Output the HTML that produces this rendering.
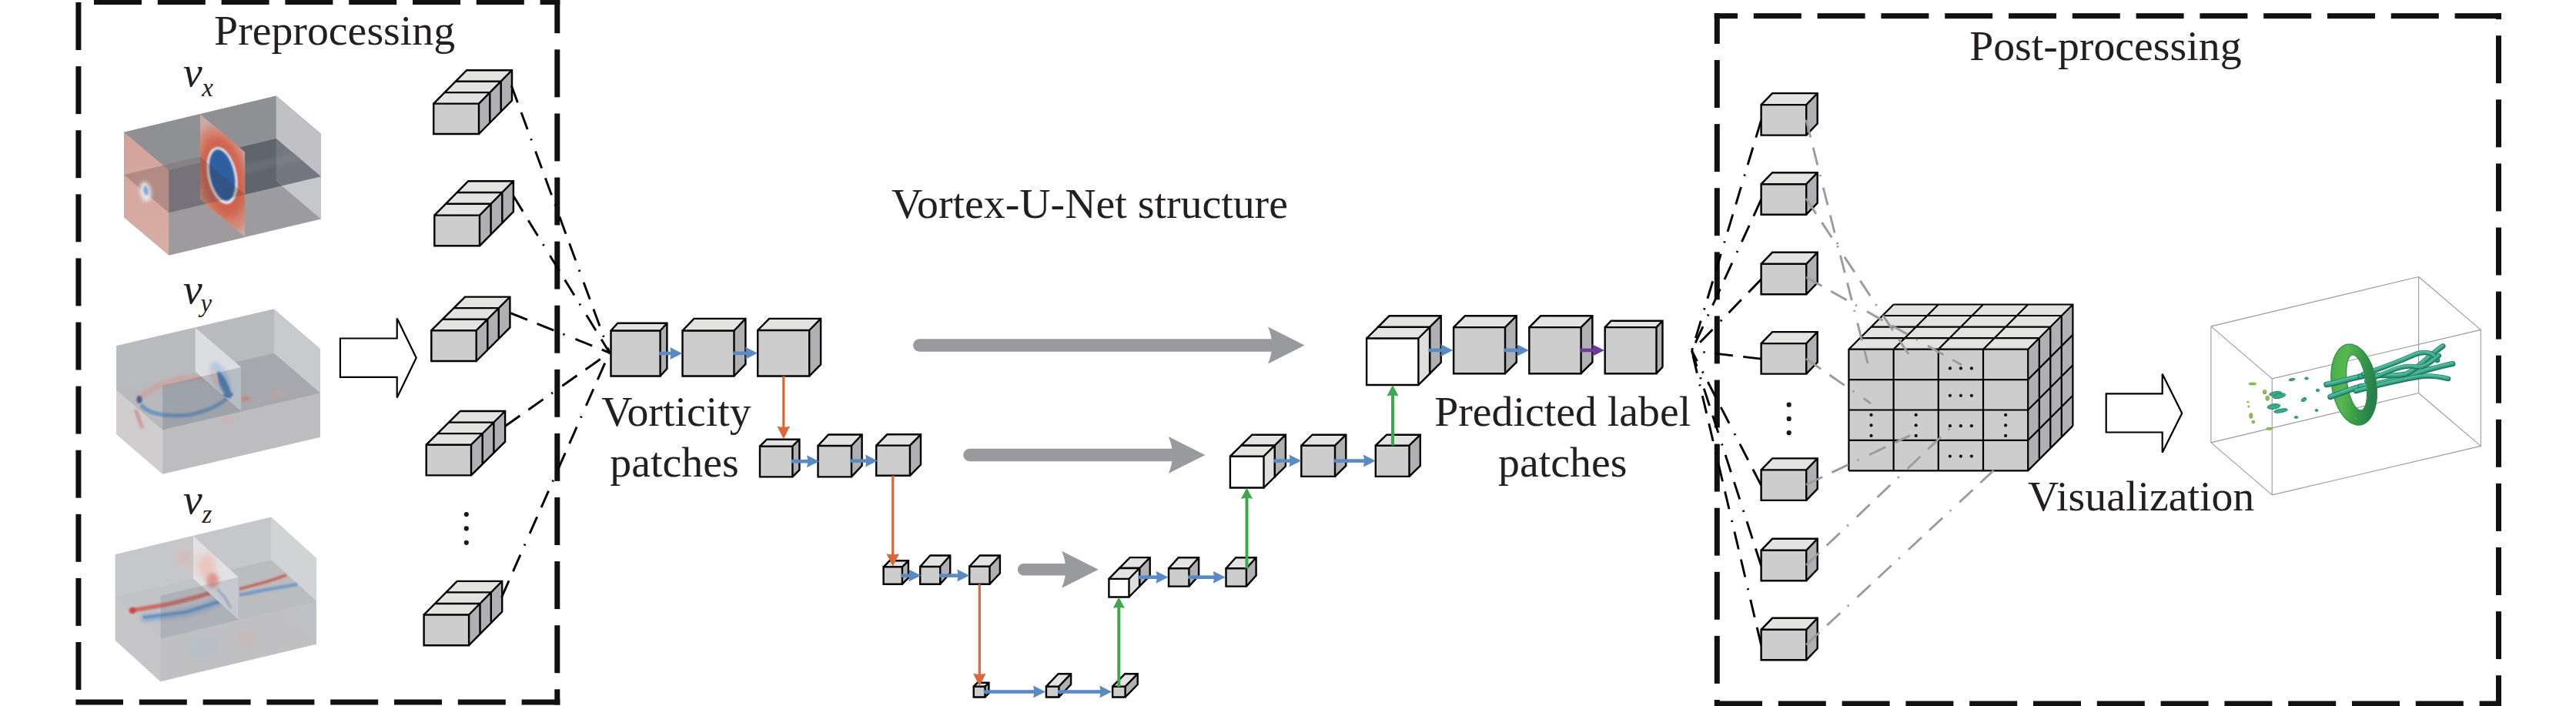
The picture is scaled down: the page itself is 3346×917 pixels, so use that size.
<!DOCTYPE html>
<html><head><meta charset="utf-8"><style>
html,body{margin:0;padding:0;background:#fff;width:3346px;height:917px;overflow:hidden}
svg{display:block}
</style></head><body>
<svg width="3346" height="917" viewBox="0 0 3346 917" font-family="Liberation Serif, serif" fill="#231f20">
<rect width="3346" height="917" fill="#fff"/>
<g fill="#111">
<rect x="122" y="-0.9" width="62" height="7"/>
<rect x="204.8" y="-0.9" width="62" height="7"/>
<rect x="287.6" y="-0.9" width="62" height="7"/>
<rect x="370.4" y="-0.9" width="62" height="7"/>
<rect x="453.2" y="-0.9" width="62" height="7"/>
<rect x="536" y="-0.9" width="62" height="7"/>
<rect x="618.8" y="-0.9" width="62" height="7"/>
<rect x="701.6" y="-0.9" width="25.7" height="7"/>
<rect x="98.4" y="908.5" width="61.6" height="7"/>
<rect x="180.8" y="908.5" width="62" height="7"/>
<rect x="263.6" y="908.5" width="62" height="7"/>
<rect x="346.4" y="908.5" width="62" height="7"/>
<rect x="429.2" y="908.5" width="62" height="7"/>
<rect x="512" y="908.5" width="62" height="7"/>
<rect x="594.8" y="908.5" width="62" height="7"/>
<rect x="677.6" y="908.5" width="49.7" height="7"/>
<rect x="98.4" y="3" width="7" height="62"/>
<rect x="98.4" y="86.1" width="7" height="62"/>
<rect x="98.4" y="169.2" width="7" height="62"/>
<rect x="98.4" y="252.3" width="7" height="62"/>
<rect x="98.4" y="335.4" width="7" height="62"/>
<rect x="98.4" y="418.5" width="7" height="62"/>
<rect x="98.4" y="501.6" width="7" height="62"/>
<rect x="98.4" y="584.7" width="7" height="62"/>
<rect x="98.4" y="667.8" width="7" height="62"/>
<rect x="98.4" y="750.9" width="7" height="62"/>
<rect x="98.4" y="834" width="7" height="62"/>
<rect x="720.3" y="-0.9" width="7" height="44.1"/>
<rect x="720.3" y="64.3" width="7" height="62"/>
<rect x="720.3" y="147.4" width="7" height="62"/>
<rect x="720.3" y="230.5" width="7" height="62"/>
<rect x="720.3" y="313.6" width="7" height="62"/>
<rect x="720.3" y="396.7" width="7" height="62"/>
<rect x="720.3" y="479.8" width="7" height="62"/>
<rect x="720.3" y="562.9" width="7" height="62"/>
<rect x="720.3" y="646" width="7" height="62"/>
<rect x="720.3" y="729.1" width="7" height="62"/>
<rect x="720.3" y="812.2" width="7" height="62"/>
<rect x="720.3" y="895.3" width="7" height="20.2"/>
</g>
<g fill="#111">
<rect x="2226.8" y="17.2" width="30.2" height="7"/>
<rect x="2277.8" y="17.2" width="62" height="7"/>
<rect x="2360.6" y="17.2" width="62" height="7"/>
<rect x="2443.4" y="17.2" width="62" height="7"/>
<rect x="2526.2" y="17.2" width="62" height="7"/>
<rect x="2609" y="17.2" width="62" height="7"/>
<rect x="2691.8" y="17.2" width="62" height="7"/>
<rect x="2774.6" y="17.2" width="62" height="7"/>
<rect x="2857.4" y="17.2" width="62" height="7"/>
<rect x="2940.2" y="17.2" width="62" height="7"/>
<rect x="3023" y="17.2" width="62" height="7"/>
<rect x="3105.8" y="17.2" width="62" height="7"/>
<rect x="3188.6" y="17.2" width="60.4" height="7"/>
<rect x="2227" y="910.5" width="62" height="7"/>
<rect x="2309.8" y="910.5" width="62" height="7"/>
<rect x="2392.6" y="910.5" width="62" height="7"/>
<rect x="2475.4" y="910.5" width="62" height="7"/>
<rect x="2558.2" y="910.5" width="62" height="7"/>
<rect x="2641" y="910.5" width="62" height="7"/>
<rect x="2723.8" y="910.5" width="62" height="7"/>
<rect x="2806.6" y="910.5" width="62" height="7"/>
<rect x="2889.4" y="910.5" width="62" height="7"/>
<rect x="2972.2" y="910.5" width="62" height="7"/>
<rect x="3055" y="910.5" width="62" height="7"/>
<rect x="3137.8" y="910.5" width="62" height="7"/>
<rect x="3220.6" y="910.5" width="28.4" height="7"/>
<rect x="2226.8" y="17.2" width="7" height="39.7"/>
<rect x="2226.8" y="78" width="7" height="62"/>
<rect x="2226.8" y="161.1" width="7" height="62"/>
<rect x="2226.8" y="244.2" width="7" height="62"/>
<rect x="2226.8" y="327.3" width="7" height="62"/>
<rect x="2226.8" y="410.4" width="7" height="62"/>
<rect x="2226.8" y="493.5" width="7" height="62"/>
<rect x="2226.8" y="576.6" width="7" height="62"/>
<rect x="2226.8" y="659.7" width="7" height="62"/>
<rect x="2226.8" y="742.8" width="7" height="62"/>
<rect x="2226.8" y="825.9" width="7" height="62"/>
<rect x="2226.8" y="909" width="7" height="8.5"/>
<rect x="3242" y="17.2" width="7" height="7.9"/>
<rect x="3242" y="46.2" width="7" height="62"/>
<rect x="3242" y="129.3" width="7" height="62"/>
<rect x="3242" y="212.4" width="7" height="62"/>
<rect x="3242" y="295.5" width="7" height="62"/>
<rect x="3242" y="378.6" width="7" height="62"/>
<rect x="3242" y="461.7" width="7" height="62"/>
<rect x="3242" y="544.8" width="7" height="62"/>
<rect x="3242" y="627.9" width="7" height="62"/>
<rect x="3242" y="711" width="7" height="62"/>
<rect x="3242" y="794.1" width="7" height="62"/>
<rect x="3242" y="877.2" width="7" height="40.3"/>
</g>
<text x="278.1" y="57.9" font-size="55.8" text-anchor="start">Preprocessing</text>
<text x="1158" y="282.9" font-size="55.8" text-anchor="start">Vortex-U-Net structure</text>
<text x="781.3" y="553.2" font-size="55.8" text-anchor="start">Vorticity</text>
<text x="792.3" y="618.6" font-size="55.8" text-anchor="start">patches</text>
<text x="1863.2" y="553.2" font-size="55.8" text-anchor="start">Predicted label</text>
<text x="1946.1" y="619" font-size="55.8" text-anchor="start">patches</text>
<text x="2558.2" y="78" font-size="55.8" text-anchor="start">Post-processing</text>
<text x="2634.1" y="663.4" font-size="55.8" text-anchor="start">Visualization</text>
<text x="237.9" y="112.2" font-size="55.8" font-style="italic" text-anchor="start">v</text>
<text x="262.3" y="124.5" font-size="33" font-style="italic" text-anchor="start">x</text>
<text x="237.9" y="393.5" font-size="55.8" font-style="italic" text-anchor="start">v</text>
<text x="260.5" y="404.5" font-size="33" font-style="italic" text-anchor="start">y</text>
<text x="237.9" y="667.2" font-size="55.8" font-style="italic" text-anchor="start">v</text>
<text x="262.4" y="678.8" font-size="33" font-style="italic" text-anchor="start">z</text>
<polygon points="161.1,171.7 358.7,124.6 417,173.9 417,284.5 219.4,331.6 161.1,282.3" fill="#9c9ca0"/>
<polygon points="161.1,171.7 358.7,124.6 417,173.9 417,229.2 358.7,179.9 161.1,227" fill="#8f9094"/>
<polygon points="358.7,124.6 417,173.9 417,229.2 358.7,179.9" fill="#bbbcbf"/>
<polygon points="358.7,179.9 417,229.2 417,284.5 358.7,235.2" fill="#c2c3c6"/>
<polygon points="161.1,171.7 219.4,221 219.4,331.6 161.1,282.3" fill="url(#pinkface)"/>
<polygon points="219.4,276.3 318.2,252.8 318.2,308 219.4,331.6" fill="#9f9a9d" opacity="0.8"/>
<polygon points="259.9,203.4 358.7,179.9 417,229.2 318.2,252.8" fill="#60646c"/>
<path d="M284.3,219.8L382,199.6L390.8,207L298.8,232.1Z" fill="#737884" filter="url(#bl2)" opacity="0.45"/>
<polygon points="358.7,124.6 417,173.9 417,284.5 358.7,235.2" fill="#e0e1e4" opacity="0.16"/>
<polygon points="219.4,221 318.2,197.4 318.2,252.8 219.4,276.3" fill="#39414f" opacity="0.22"/>
<g clip-path="url(#cvx)">
<polygon points="259.9,148.1 318.2,197.4 318.2,308 259.9,258.8" fill="#c9aca6"/>
<ellipse cx="290" cy="232" rx="36" ry="70" transform="rotate(-14 290 232)" fill="#d58572" filter="url(#bl3)"/>
<ellipse cx="289.5" cy="230" rx="28" ry="54" transform="rotate(-13 289.5 230)" fill="#ce6450" filter="url(#bl3)"/>
<ellipse cx="288.6" cy="228" rx="18.8" ry="37.5" transform="rotate(-12 288.6 228)" fill="#eef1f4" filter="url(#bl1)"/>
<ellipse cx="288.6" cy="227.5" rx="15.8" ry="34.2" transform="rotate(-12 288.6 227.5)" fill="#2f5ea0" filter="url(#bl1)"/>
</g>
<polygon points="161.1,227 259.9,203.4 318.2,252.8 219.4,276.3" fill="#3e3237" opacity="0.24"/>
<ellipse cx="189" cy="249" rx="7" ry="13" transform="rotate(-10 189 249)" fill="#e6ebef" filter="url(#bl2)"/>
<ellipse cx="189.5" cy="247.5" rx="3.2" ry="6.5" transform="rotate(-10 189.5 247.5)" fill="#86a9cf" filter="url(#bl1)"/>
<polygon points="151.3,449.2 355.7,401.4 415.7,453 415.7,567.9 211.3,615.7 151.3,564.1" fill="#bdbdbf"/>
<polygon points="151.3,449.2 355.7,401.4 415.7,453 415.7,510.4 355.7,458.8 151.3,506.6" fill="#b9babe"/>
<polygon points="355.7,401.4 415.7,453 415.7,510.4 355.7,458.8" fill="#c9cacd"/>
<polygon points="355.7,458.8 415.7,510.4 415.7,567.9 355.7,516.3" fill="#bdbdc0"/>
<polygon points="211.3,558.2 211.3,615.7 151.3,564.1 151.3,506.6" fill="#cfcdcd"/>
<polygon points="151.3,506.6 253.5,482.8 313.5,534.4 211.3,558.2" fill="#b8b9bd"/>
<polygon points="253.5,482.8 355.7,458.8 415.7,510.4 313.5,534.4" fill="#a6a8ae"/>
<path d="M180,518 Q200,500 235,492 Q258,489 274,494" fill="none" stroke="#d39a91" stroke-width="6" opacity="0.75" filter="url(#bl2)"/>
<path d="M183,526 Q198,543 245,539 Q280,532 296,516" fill="none" stroke="#5a8cbf" stroke-width="5" opacity="0.8" filter="url(#bl1)"/>
<path d="M176,532 L185,556" fill="none" stroke="#cf8a87" stroke-width="5" opacity="0.7" filter="url(#bl1)"/>
<ellipse cx="181" cy="519" rx="3.5" ry="5" transform="rotate(0 181 519)" fill="#4e5e90" filter="url(#bl1)"/>
<ellipse cx="318.5" cy="518" rx="6" ry="3.2" transform="rotate(-10 318.5 518)" fill="#cc7f78" filter="url(#bl1)" opacity="0.8"/>
<ellipse cx="360" cy="512" rx="12" ry="5" transform="rotate(-10 360 512)" fill="#c9a3a0" filter="url(#bl2)" opacity="0.5"/>
<ellipse cx="295" cy="545" rx="8" ry="4" transform="rotate(-20 295 545)" fill="#d6aca6" filter="url(#bl2)" opacity="0.6"/>
<g clip-path="url(#cvy)">
<polygon points="253.5,425.3 313.5,476.9 313.5,534.4 253.5,482.8" fill="#dcdde0"/>
<ellipse cx="287" cy="492" rx="10" ry="24" transform="rotate(-25 287 492)" fill="#b3c9df" filter="url(#bl2)"/>
<ellipse cx="291" cy="500" rx="5" ry="19" transform="rotate(-25 291 500)" fill="#4a7fb8" filter="url(#bl1)"/>
<ellipse cx="279" cy="490" rx="3.5" ry="12" transform="rotate(-15 279 490)" fill="#e6c3bd" filter="url(#bl1)"/>
<ellipse cx="296" cy="513" rx="7" ry="3" transform="rotate(-10 296 513)" fill="#4f7fb3" filter="url(#bl1)"/>
</g>
<polygon points="211.3,500.8 313.5,476.9 313.5,534.4 211.3,558.2" fill="#5a6577" opacity="0.27"/>
<polygon points="149.8,720.2 352.1,671.7 411,725.2 411,836.7 208.7,885.2 149.8,831.7" fill="#c0c0c3"/>
<polygon points="149.8,720.2 352.1,671.7 411,725.2 411,781 352.1,727.5 149.8,776" fill="#c6c7ca"/>
<polygon points="352.1,671.7 411,725.2 411,781 352.1,727.5" fill="#d2d3d5"/>
<polygon points="352.1,727.5 411,781 411,836.7 352.1,783.2" fill="#c0c1c4"/>
<polygon points="208.7,829.5 208.7,885.2 149.8,831.7 149.8,776" fill="#c6c6c8"/>
<polygon points="149.8,776 251,751.7 309.9,805.2 208.7,829.5" fill="#c2c3c6"/>
<polygon points="251,751.7 352.1,727.5 411,781 309.9,805.2" fill="#babcc0"/>
<ellipse cx="265" cy="840" rx="22" ry="12" transform="rotate(-10 265 840)" fill="#aebfd0" filter="url(#bl3)" opacity="0.5"/>
<ellipse cx="320" cy="830" rx="12" ry="9" transform="rotate(0 320 830)" fill="#d6b0aa" filter="url(#bl3)" opacity="0.5"/>
<path d="M184,803 L215,800 L241,796 L265,789 L288,780" fill="none" stroke="#6f9ccb" stroke-width="9" opacity="0.6" filter="url(#bl2)"/>
<path d="M186,802 L241,795 L286,781" fill="none" stroke="#4f83bb" stroke-width="3.5" opacity="0.7" filter="url(#bl1)"/>
<path d="M171,793 L218,785 L250,777 L277,769 L284,754" fill="none" stroke="#cd5f52" stroke-width="5.5" opacity="0.85" filter="url(#bl1)"/>
<path d="M311,773 L345,766 L386,759" fill="none" stroke="#5d90c4" stroke-width="4.5" opacity="0.7" filter="url(#bl1)"/>
<path d="M311,765 L345,756 L372,747" fill="none" stroke="#c9564b" stroke-width="3.5" opacity="0.85" filter="url(#bl1)"/>
<ellipse cx="172" cy="793" rx="4.5" ry="4" transform="rotate(0 172 793)" fill="#c94c44" filter="url(#bl1)"/>
<g clip-path="url(#cvz)">
<polygon points="251,696 309.9,749.5 309.9,805.2 251,751.7" fill="#e2e2e4"/>
<ellipse cx="268" cy="735" rx="12" ry="16" transform="rotate(0 268 735)" fill="#ebc2b9" filter="url(#bl3)" opacity="0.9"/>
<ellipse cx="276" cy="754" rx="8" ry="10" transform="rotate(0 276 754)" fill="#dc8f84" filter="url(#bl2)" opacity="0.9"/>
<path d="M282,765 L292,776 L300,790" fill="none" stroke="#7aa0c7" stroke-width="3" opacity="0.6" filter="url(#bl1)"/>
</g>
<ellipse cx="240" cy="725" rx="10" ry="12" transform="rotate(0 240 725)" fill="#dcb9b3" filter="url(#bl3)" opacity="0.6"/>
<polygon points="208.7,773.7 309.9,749.5 309.9,805.2 208.7,829.5" fill="#5e6a7c" opacity="0.2"/>
<defs>
<filter id="bl1" x="-50%" y="-50%" width="200%" height="200%"><feGaussianBlur stdDeviation="1.2"/></filter>
<filter id="bl2" x="-50%" y="-50%" width="200%" height="200%"><feGaussianBlur stdDeviation="2.5"/></filter>
<filter id="bl3" x="-50%" y="-50%" width="200%" height="200%"><feGaussianBlur stdDeviation="5"/></filter>
<filter id="bl4" x="-50%" y="-50%" width="200%" height="200%"><feGaussianBlur stdDeviation="8"/></filter>
<linearGradient id="pinkface" x1="0" y1="0" x2="0" y2="1"><stop offset="0" stop-color="#d3a398"/><stop offset="1" stop-color="#d8aea5"/></linearGradient>
<clipPath id="cvx"><polygon points="259.9,148.1 318.2,197.4 318.2,308 259.9,258.8"/></clipPath>
<clipPath id="cvy"><polygon points="253.5,425.3 313.5,476.9 313.5,534.4 253.5,482.8"/></clipPath>
<clipPath id="cvz"><polygon points="251,696 309.9,749.5 309.9,805.2 251,751.7"/></clipPath>
</defs>
<polygon points="563.2,134.6 622,134.6 665,91.2 606.2,91.2" fill="#e3e3e1"/>
<polygon points="622,134.6 665,91.2 665,130.6 622,174" fill="#b0b0b2"/>
<rect x="563.2" y="134.6" width="58.8" height="39.4" fill="#cdcdcd"/>
<path d="M563.2,134.6H622V174H563.2Z M563.2,134.6L606.2,91.2H665V130.6L622,174 M622,134.6L665,91.2 M577.5,120.1H636.3L636.3,159.5 M591.9,105.7H650.7L650.7,145.1" fill="none" stroke="#000" stroke-width="2.4" stroke-linejoin="miter"/>
<polygon points="564.3,279.6 623,279.6 666.9,235.2 608.2,235.2" fill="#e3e3e1"/>
<polygon points="623,279.6 666.9,235.2 666.9,274.9 623,319.3" fill="#b0b0b2"/>
<rect x="564.3" y="279.6" width="58.7" height="39.7" fill="#cdcdcd"/>
<path d="M564.3,279.6H623V319.3H564.3Z M564.3,279.6L608.2,235.2H666.9V274.9L623,319.3 M623,279.6L666.9,235.2 M578.9,264.8H637.6L637.6,304.5 M593.6,250H652.3L652.3,289.7" fill="none" stroke="#000" stroke-width="2.4" stroke-linejoin="miter"/>
<polygon points="560.3,429.2 618.7,429.2 662.4,385.6 604,385.6" fill="#e3e3e1"/>
<polygon points="618.7,429.2 662.4,385.6 662.4,425.4 618.7,469" fill="#b0b0b2"/>
<rect x="560.3" y="429.2" width="58.4" height="39.8" fill="#cdcdcd"/>
<path d="M560.3,429.2H618.7V469H560.3Z M560.3,429.2L604,385.6H662.4V425.4L618.7,469 M618.7,429.2L662.4,385.6 M574.9,414.7H633.3L633.3,454.5 M589.4,400.1H647.8L647.8,439.9" fill="none" stroke="#000" stroke-width="2.4" stroke-linejoin="miter"/>
<polygon points="553.7,577.7 612,577.7 656.1,534 597.8,534" fill="#e3e3e1"/>
<polygon points="612,577.7 656.1,534 656.1,573.7 612,617.4" fill="#b0b0b2"/>
<rect x="553.7" y="577.7" width="58.3" height="39.7" fill="#cdcdcd"/>
<path d="M553.7,577.7H612V617.4H553.7Z M553.7,577.7L597.8,534H656.1V573.7L612,617.4 M612,577.7L656.1,534 M568.4,563.1H626.7L626.7,602.8 M583.1,548.6H641.4L641.4,588.3" fill="none" stroke="#000" stroke-width="2.4" stroke-linejoin="miter"/>
<polygon points="550.6,798.5 609.1,798.5 652.2,754.9 593.7,754.9" fill="#e3e3e1"/>
<polygon points="609.1,798.5 652.2,754.9 652.2,794.6 609.1,838.2" fill="#b0b0b2"/>
<rect x="550.6" y="798.5" width="58.5" height="39.7" fill="#cdcdcd"/>
<path d="M550.6,798.5H609.1V838.2H550.6Z M550.6,798.5L593.7,754.9H652.2V794.6L609.1,838.2 M609.1,798.5L652.2,754.9 M565,784H623.5L623.5,823.7 M579.3,769.4H637.8L637.8,809.1" fill="none" stroke="#000" stroke-width="2.4" stroke-linejoin="miter"/>
<circle cx="605.8" cy="668.1" r="3.1" fill="#1a1a1a"/>
<circle cx="605.8" cy="686.4" r="3.1" fill="#1a1a1a"/>
<circle cx="605.8" cy="704.8" r="3.1" fill="#1a1a1a"/>
<path d="M441.9,439.5H515.7V413.4L540.7,464.8L515.7,516.5V489.9H441.9Z" fill="#fff" stroke="#000" stroke-width="2.2" stroke-linejoin="miter"/>
<path d="M2735.7,511.4H2808.7V485.7L2834.2,536.7L2808.7,587.8V561.5H2735.7Z" fill="#fff" stroke="#000" stroke-width="2.2" stroke-linejoin="miter"/>
<line x1="664.3" y1="111.3" x2="791.7" y2="458.1" stroke="#000" stroke-width="2.9" stroke-dasharray="23.5 13.5 23.5 13 2.2 15"/>
<line x1="666.9" y1="254.6" x2="791.7" y2="458.1" stroke="#000" stroke-width="2.9" stroke-dasharray="23.5 13.5 23.5 13 2.2 15"/>
<line x1="663.2" y1="406.6" x2="791.7" y2="458.1" stroke="#000" stroke-width="2.9" stroke-dasharray="23.5 13.5 23.5 13 2.2 15"/>
<line x1="656.1" y1="553.5" x2="791.7" y2="458.1" stroke="#000" stroke-width="2.9" stroke-dasharray="23.5 13.5 23.5 13 2.2 15"/>
<line x1="651.5" y1="775.9" x2="791.7" y2="458.1" stroke="#000" stroke-width="2.9" stroke-dasharray="23.5 13.5 23.5 13 2.2 15"/>
<polygon points="793.5,429.5 857.6,429.5 866.4,419.8 802.3,419.8" fill="#e3e3e1"/>
<polygon points="857.6,429.5 866.4,419.8 866.4,478.8 857.6,488.5" fill="#b0b0b2"/>
<rect x="793.5" y="429.5" width="64.1" height="59" fill="#cdcdcd"/>
<path d="M793.5,429.5H857.6V488.5H793.5Z M793.5,429.5L802.3,419.8H866.4V478.8L857.6,488.5 M857.6,429.5L866.4,419.8" fill="none" stroke="#000" stroke-width="2.4" stroke-linejoin="miter"/>
<polygon points="886.5,429.5 953.5,429.5 968.4,413.9 901.4,413.9" fill="#e3e3e1"/>
<polygon points="953.5,429.5 968.4,413.9 968.4,472.9 953.5,488.5" fill="#b0b0b2"/>
<rect x="886.5" y="429.5" width="67" height="59" fill="#cdcdcd"/>
<path d="M886.5,429.5H953.5V488.5H886.5Z M886.5,429.5L901.4,413.9H968.4V472.9L953.5,488.5 M953.5,429.5L968.4,413.9" fill="none" stroke="#000" stroke-width="2.4" stroke-linejoin="miter"/>
<polygon points="984.2,429 1051.2,429 1066.1,413.9 999.1,413.9" fill="#e3e3e1"/>
<polygon points="1051.2,429 1066.1,413.9 1066.1,473.4 1051.2,488.5" fill="#b0b0b2"/>
<rect x="984.2" y="429" width="67" height="59.5" fill="#cdcdcd"/>
<path d="M984.2,429H1051.2V488.5H984.2Z M984.2,429L999.1,413.9H1066.1V473.4L1051.2,488.5 M1051.2,429L1066.1,413.9" fill="none" stroke="#000" stroke-width="2.4" stroke-linejoin="miter"/>
<rect x="856.5" y="456.7" width="16.4" height="4.6" fill="#5a8ac4"/><path d="M870.2,451L886.2,459L870.2,467Q872.4,459 870.2,451Z" fill="#5a8ac4"/>
<rect x="952.1" y="456.5" width="18.6" height="4.6" fill="#5a8ac4"/><path d="M968,450.8L984,458.8L968,466.8Q970.2,458.8 968,450.8Z" fill="#5a8ac4"/>
<polygon points="987,579.7 1029.4,579.7 1038.4,570.7 996,570.7" fill="#e3e3e1"/>
<polygon points="1029.4,579.7 1038.4,570.7 1038.4,610.4 1029.4,619.4" fill="#b0b0b2"/>
<rect x="987" y="579.7" width="42.4" height="39.7" fill="#cdcdcd"/>
<path d="M987,579.7H1029.4V619.4H987Z M987,579.7L996,570.7H1038.4V610.4L1029.4,619.4 M1029.4,579.7L1038.4,570.7" fill="none" stroke="#000" stroke-width="2.4" stroke-linejoin="miter"/>
<polygon points="1062.5,579 1106,579 1119.6,564.5 1076.1,564.5" fill="#e3e3e1"/>
<polygon points="1106,579 1119.6,564.5 1119.6,604.9 1106,619.4" fill="#b0b0b2"/>
<rect x="1062.5" y="579" width="43.5" height="40.4" fill="#cdcdcd"/>
<path d="M1062.5,579H1106V619.4H1062.5Z M1062.5,579L1076.1,564.5H1119.6V604.9L1106,619.4 M1106,579L1119.6,564.5" fill="none" stroke="#000" stroke-width="2.4" stroke-linejoin="miter"/>
<polygon points="1138.2,578.6 1181.9,578.6 1196,564.3 1152.3,564.3" fill="#e3e3e1"/>
<polygon points="1181.9,578.6 1196,564.3 1196,603.5 1181.9,617.8" fill="#b0b0b2"/>
<rect x="1138.2" y="578.6" width="43.7" height="39.2" fill="#cdcdcd"/>
<path d="M1138.2,578.6H1181.9V617.8H1138.2Z M1138.2,578.6L1152.3,564.3H1196V603.5L1181.9,617.8 M1181.9,578.6L1196,564.3" fill="none" stroke="#000" stroke-width="2.4" stroke-linejoin="miter"/>
<rect x="1027.8" y="596.9" width="22.9" height="4.6" fill="#5a8ac4"/><path d="M1048,591.2L1064,599.2L1048,607.2Q1050.2,599.2 1048,591.2Z" fill="#5a8ac4"/>
<rect x="1104.2" y="596.3" width="22.5" height="4.6" fill="#5a8ac4"/><path d="M1124,590.6L1140,598.6L1124,606.6Q1126.2,598.6 1124,590.6Z" fill="#5a8ac4"/>
<rect x="1016.2" y="488.5" width="3.2" height="67.9" fill="#d9683a"/><path d="M1009.5,553.7L1017.8,570.2L1026.1,553.7Q1017.8,555.9 1009.5,553.7Z" fill="#d9683a"/>
<polygon points="1147.6,736.3 1171.9,736.3 1179.9,728.3 1155.6,728.3" fill="#e3e3e1"/>
<polygon points="1171.9,736.3 1179.9,728.3 1179.9,750.7 1171.9,758.7" fill="#b0b0b2"/>
<rect x="1147.6" y="736.3" width="24.3" height="22.4" fill="#cdcdcd"/>
<path d="M1147.6,736.3H1171.9V758.7H1147.6Z M1147.6,736.3L1155.6,728.3H1179.9V750.7L1171.9,758.7 M1171.9,736.3L1179.9,728.3" fill="none" stroke="#000" stroke-width="2.4" stroke-linejoin="miter"/>
<polygon points="1195.2,736 1221.2,736 1234.2,721.5 1208.2,721.5" fill="#e3e3e1"/>
<polygon points="1221.2,736 1234.2,721.5 1234.2,744.2 1221.2,758.7" fill="#b0b0b2"/>
<rect x="1195.2" y="736" width="26" height="22.7" fill="#cdcdcd"/>
<path d="M1195.2,736H1221.2V758.7H1195.2Z M1195.2,736L1208.2,721.5H1234.2V744.2L1221.2,758.7 M1221.2,736L1234.2,721.5" fill="none" stroke="#000" stroke-width="2.4" stroke-linejoin="miter"/>
<polygon points="1259.2,735.7 1285.5,735.7 1298.9,721.5 1272.6,721.5" fill="#e3e3e1"/>
<polygon points="1285.5,735.7 1298.9,721.5 1298.9,744.5 1285.5,758.7" fill="#b0b0b2"/>
<rect x="1259.2" y="735.7" width="26.3" height="23" fill="#cdcdcd"/>
<path d="M1259.2,735.7H1285.5V758.7H1259.2Z M1259.2,735.7L1272.6,721.5H1298.9V744.5L1285.5,758.7 M1285.5,735.7L1298.9,721.5" fill="none" stroke="#000" stroke-width="2.4" stroke-linejoin="miter"/>
<rect x="1170.6" y="745.3" width="12.4" height="4.6" fill="#5a8ac4"/><path d="M1180.3,739.6L1196.3,747.6L1180.3,755.6Q1182.5,747.6 1180.3,739.6Z" fill="#5a8ac4"/>
<rect x="1220.1" y="745.3" width="25.8" height="4.6" fill="#5a8ac4"/><path d="M1243.2,739.6L1259.2,747.6L1243.2,755.6Q1245.4,747.6 1243.2,739.6Z" fill="#5a8ac4"/>
<rect x="1158.1" y="617.8" width="3.2" height="104.1" fill="#d9683a"/><path d="M1151.4,719.2L1159.7,735.7L1168,719.2Q1159.7,721.4 1151.4,719.2Z" fill="#d9683a"/>
<polygon points="1264.7,891.7 1279.5,891.7 1284.4,886.8 1269.6,886.8" fill="#e3e3e1"/>
<polygon points="1279.5,891.7 1284.4,886.8 1284.4,900.6 1279.5,905.5" fill="#b0b0b2"/>
<rect x="1264.7" y="891.7" width="14.8" height="13.8" fill="#cdcdcd"/>
<path d="M1264.7,891.7H1279.5V905.5H1264.7Z M1264.7,891.7L1269.6,886.8H1284.4V900.6L1279.5,905.5 M1279.5,891.7L1284.4,886.8" fill="none" stroke="#000" stroke-width="2.4" stroke-linejoin="miter"/>
<polygon points="1358.9,891.7 1375.4,891.7 1391.1,875.2 1374.6,875.2" fill="#e3e3e1"/>
<polygon points="1375.4,891.7 1391.1,875.2 1391.1,889 1375.4,905.5" fill="#b0b0b2"/>
<rect x="1358.9" y="891.7" width="16.5" height="13.8" fill="#cdcdcd"/>
<path d="M1358.9,891.7H1375.4V905.5H1358.9Z M1358.9,891.7L1374.6,875.2H1391.1V889L1375.4,905.5 M1375.4,891.7L1391.1,875.2" fill="none" stroke="#000" stroke-width="2.4" stroke-linejoin="miter"/>
<polygon points="1445.1,891.7 1461.6,891.7 1477.7,875.2 1461.2,875.2" fill="#e3e3e1"/>
<polygon points="1461.6,891.7 1477.7,875.2 1477.7,889 1461.6,905.5" fill="#b0b0b2"/>
<rect x="1445.1" y="891.7" width="16.5" height="13.8" fill="#cdcdcd"/>
<path d="M1445.1,891.7H1461.6V905.5H1445.1Z M1445.1,891.7L1461.2,875.2H1477.7V889L1461.6,905.5 M1461.6,891.7L1477.7,875.2" fill="none" stroke="#000" stroke-width="2.4" stroke-linejoin="miter"/>
<rect x="1277.7" y="896.2" width="67" height="4.6" fill="#5a8ac4"/><path d="M1342,890.5L1358,898.5L1342,906.5Q1344.2,898.5 1342,890.5Z" fill="#5a8ac4"/>
<rect x="1374.1" y="896.2" width="56.8" height="4.6" fill="#5a8ac4"/><path d="M1428.2,890.5L1444.2,898.5L1428.2,906.5Q1430.4,898.5 1428.2,890.5Z" fill="#5a8ac4"/>
<rect x="1270.7" y="758.7" width="3.2" height="118.7" fill="#d9683a"/><path d="M1264,874.7L1272.3,891.2L1280.6,874.7Q1272.3,876.9 1264,874.7Z" fill="#d9683a"/>
<polygon points="1454,738 1480.1,738 1493.7,724.1 1467.6,724.1" fill="#e3e3e1"/>
<polygon points="1480.1,738 1493.7,724.1 1493.7,747.7 1480.1,761.6" fill="#b0b0b2"/>
<rect x="1454" y="738" width="26.1" height="23.6" fill="#cdcdcd"/>
<path d="M1454,738H1480.1V761.6H1454Z M1454,738L1467.6,724.1H1493.7V747.7L1480.1,761.6 M1480.1,738L1493.7,724.1" fill="none" stroke="#000" stroke-width="2.4" stroke-linejoin="miter"/><polygon points="1440.4,751.9 1466.5,751.9 1480.1,738 1454,738" fill="#e3e3e1"/>
<polygon points="1466.5,751.9 1480.1,738 1480.1,761.6 1466.5,775.5" fill="#dededd"/>
<rect x="1440.4" y="751.9" width="26.1" height="23.6" fill="#ffffff"/>
<path d="M1440.4,751.9H1466.5V775.5H1440.4Z M1440.4,751.9L1454,738H1480.1V761.6L1466.5,775.5 M1466.5,751.9L1480.1,738" fill="none" stroke="#000" stroke-width="2.4" stroke-linejoin="miter"/>
<polygon points="1518,738.3 1544.4,738.3 1557.1,724.2 1530.7,724.2" fill="#e3e3e1"/>
<polygon points="1544.4,738.3 1557.1,724.2 1557.1,747.5 1544.4,761.6" fill="#b0b0b2"/>
<rect x="1518" y="738.3" width="26.4" height="23.3" fill="#cdcdcd"/>
<path d="M1518,738.3H1544.4V761.6H1518Z M1518,738.3L1530.7,724.2H1557.1V747.5L1544.4,761.6 M1544.4,738.3L1557.1,724.2" fill="none" stroke="#000" stroke-width="2.4" stroke-linejoin="miter"/>
<polygon points="1592.5,738.3 1618.9,738.3 1631.6,724.2 1605.2,724.2" fill="#e3e3e1"/>
<polygon points="1618.9,738.3 1631.6,724.2 1631.6,747.5 1618.9,761.6" fill="#b0b0b2"/>
<rect x="1592.5" y="738.3" width="26.4" height="23.3" fill="#cdcdcd"/>
<path d="M1592.5,738.3H1618.9V761.6H1592.5Z M1592.5,738.3L1605.2,724.2H1631.6V747.5L1618.9,761.6 M1618.9,738.3L1631.6,724.2" fill="none" stroke="#000" stroke-width="2.4" stroke-linejoin="miter"/>
<rect x="1478.4" y="747.4" width="25.8" height="4.6" fill="#5a8ac4"/><path d="M1501.5,741.7L1517.5,749.7L1501.5,757.7Q1503.7,749.7 1501.5,741.7Z" fill="#5a8ac4"/>
<rect x="1543" y="747.4" width="35.4" height="4.6" fill="#5a8ac4"/><path d="M1575.7,741.7L1591.7,749.7L1575.7,757.7Q1577.9,749.7 1575.7,741.7Z" fill="#5a8ac4"/>
<rect x="1451.3" y="787.3" width="4" height="104.7" fill="#3ea84f"/><path d="M1445.7,790L1453.3,775.5L1460.9,790Q1453.3,787.8 1445.7,790Z" fill="#3ea84f"/>
<polygon points="1612.1,578.7 1655.7,578.7 1669.9,564.7 1626.3,564.7" fill="#e3e3e1"/>
<polygon points="1655.7,578.7 1669.9,564.7 1669.9,605.5 1655.7,619.5" fill="#b0b0b2"/>
<rect x="1612.1" y="578.7" width="43.6" height="40.8" fill="#cdcdcd"/>
<path d="M1612.1,578.7H1655.7V619.5H1612.1Z M1612.1,578.7L1626.3,564.7H1669.9V605.5L1655.7,619.5 M1655.7,578.7L1669.9,564.7" fill="none" stroke="#000" stroke-width="2.4" stroke-linejoin="miter"/><polygon points="1597.9,592.7 1641.5,592.7 1655.7,578.7 1612.1,578.7" fill="#e3e3e1"/>
<polygon points="1641.5,592.7 1655.7,578.7 1655.7,619.5 1641.5,633.5" fill="#dededd"/>
<rect x="1597.9" y="592.7" width="43.6" height="40.8" fill="#ffffff"/>
<path d="M1597.9,592.7H1641.5V633.5H1597.9Z M1597.9,592.7L1612.1,578.7H1655.7V619.5L1641.5,633.5 M1641.5,592.7L1655.7,578.7" fill="none" stroke="#000" stroke-width="2.4" stroke-linejoin="miter"/>
<polygon points="1690.3,578.7 1734,578.7 1748.3,564.7 1704.6,564.7" fill="#e3e3e1"/>
<polygon points="1734,578.7 1748.3,564.7 1748.3,604.9 1734,618.9" fill="#b0b0b2"/>
<rect x="1690.3" y="578.7" width="43.7" height="40.2" fill="#cdcdcd"/>
<path d="M1690.3,578.7H1734V618.9H1690.3Z M1690.3,578.7L1704.6,564.7H1748.3V604.9L1734,618.9 M1734,578.7L1748.3,564.7" fill="none" stroke="#000" stroke-width="2.4" stroke-linejoin="miter"/>
<polygon points="1786.8,578.7 1830.5,578.7 1844.8,564.7 1801.1,564.7" fill="#e3e3e1"/>
<polygon points="1830.5,578.7 1844.8,564.7 1844.8,604.9 1830.5,618.9" fill="#b0b0b2"/>
<rect x="1786.8" y="578.7" width="43.7" height="40.2" fill="#cdcdcd"/>
<path d="M1786.8,578.7H1830.5V618.9H1786.8Z M1786.8,578.7L1801.1,564.7H1844.8V604.9L1830.5,618.9 M1830.5,578.7L1844.8,564.7" fill="none" stroke="#000" stroke-width="2.4" stroke-linejoin="miter"/>
<rect x="1654" y="596.3" width="23" height="4.6" fill="#5a8ac4"/><path d="M1674.3,590.6L1690.3,598.6L1674.3,606.6Q1676.5,598.6 1674.3,590.6Z" fill="#5a8ac4"/>
<rect x="1732.4" y="596.3" width="41.1" height="4.6" fill="#5a8ac4"/><path d="M1770.8,590.6L1786.8,598.6L1770.8,606.6Q1773,598.6 1770.8,590.6Z" fill="#5a8ac4"/>
<rect x="1617.5" y="645.3" width="4" height="93" fill="#3ea84f"/><path d="M1611.9,648L1619.5,633.5L1627.1,648Q1619.5,645.8 1611.9,648Z" fill="#3ea84f"/>
<polygon points="1789.8,424.9 1857.1,424.9 1871.7,410.3 1804.4,410.3" fill="#e3e3e1"/>
<polygon points="1857.1,424.9 1871.7,410.3 1871.7,470.8 1857.1,485.4" fill="#b0b0b2"/>
<rect x="1789.8" y="424.9" width="67.3" height="60.5" fill="#cdcdcd"/>
<path d="M1789.8,424.9H1857.1V485.4H1789.8Z M1789.8,424.9L1804.4,410.3H1871.7V470.8L1857.1,485.4 M1857.1,424.9L1871.7,410.3" fill="none" stroke="#000" stroke-width="2.4" stroke-linejoin="miter"/><polygon points="1775.1,439.5 1842.4,439.5 1857.1,424.9 1789.8,424.9" fill="#e3e3e1"/>
<polygon points="1842.4,439.5 1857.1,424.9 1857.1,485.4 1842.4,500" fill="#dededd"/>
<rect x="1775.1" y="439.5" width="67.3" height="60.5" fill="#ffffff"/>
<path d="M1775.1,439.5H1842.4V500H1775.1Z M1775.1,439.5L1789.8,424.9H1857.1V485.4L1842.4,500 M1842.4,439.5L1857.1,424.9" fill="none" stroke="#000" stroke-width="2.4" stroke-linejoin="miter"/>
<polygon points="1888.1,425.1 1955,425.1 1969.8,410.3 1902.9,410.3" fill="#e3e3e1"/>
<polygon points="1955,425.1 1969.8,410.3 1969.8,470.4 1955,485.2" fill="#b0b0b2"/>
<rect x="1888.1" y="425.1" width="66.9" height="60.1" fill="#cdcdcd"/>
<path d="M1888.1,425.1H1955V485.2H1888.1Z M1888.1,425.1L1902.9,410.3H1969.8V470.4L1955,485.2 M1955,425.1L1969.8,410.3" fill="none" stroke="#000" stroke-width="2.4" stroke-linejoin="miter"/>
<polygon points="1986.3,425.1 2053.6,425.1 2068.4,410.3 2001.1,410.3" fill="#e3e3e1"/>
<polygon points="2053.6,425.1 2068.4,410.3 2068.4,470.4 2053.6,485.2" fill="#b0b0b2"/>
<rect x="1986.3" y="425.1" width="67.3" height="60.1" fill="#cdcdcd"/>
<path d="M1986.3,425.1H2053.6V485.2H1986.3Z M1986.3,425.1L2001.1,410.3H2068.4V470.4L2053.6,485.2 M2053.6,425.1L2068.4,410.3" fill="none" stroke="#000" stroke-width="2.4" stroke-linejoin="miter"/>
<polygon points="2084.7,425.1 2151.5,425.1 2159.5,416.7 2092.7,416.7" fill="#e3e3e1"/>
<polygon points="2151.5,425.1 2159.5,416.7 2159.5,476.8 2151.5,485.2" fill="#b0b0b2"/>
<rect x="2084.7" y="425.1" width="66.8" height="60.1" fill="#cdcdcd"/>
<path d="M2084.7,425.1H2151.5V485.2H2084.7Z M2084.7,425.1L2092.7,416.7H2159.5V476.8L2151.5,485.2 M2151.5,425.1L2159.5,416.7" fill="none" stroke="#000" stroke-width="2.4" stroke-linejoin="miter"/>
<rect x="1855.5" y="452.6" width="18.5" height="4.6" fill="#5a8ac4"/><path d="M1871.3,446.9L1887.3,454.9L1871.3,462.9Q1873.5,454.9 1871.3,446.9Z" fill="#5a8ac4"/>
<rect x="1953.4" y="452.6" width="19.3" height="4.6" fill="#5a8ac4"/><path d="M1970,446.9L1986,454.9L1970,462.9Q1972.2,454.9 1970,446.9Z" fill="#5a8ac4"/>
<rect x="2052" y="452.6" width="18.6" height="4.6" fill="#6a3c98"/><path d="M2067.9,446.9L2083.9,454.9L2067.9,462.9Q2070.1,454.9 2067.9,446.9Z" fill="#6a3c98"/>
<rect x="1807" y="511.8" width="4" height="66.9" fill="#3ea84f"/><path d="M1801.4,514.5L1809,500L1816.6,514.5Q1809,512.3 1801.4,514.5Z" fill="#3ea84f"/>
<line x1="1194.2" y1="448.5" x2="1652" y2="448.5" stroke="#999a9e" stroke-width="16.3" stroke-linecap="round"/><path d="M1647,424.5L1694.6,448.5L1647,472.5Q1652.5,459.3 1652,448.5Q1652.5,437.7 1647,424.5Z" fill="#999a9e"/>
<line x1="1259.5" y1="591" x2="1522.8" y2="591" stroke="#999a9e" stroke-width="16.5" stroke-linecap="round"/><path d="M1517.8,567L1565.4,591L1517.8,615Q1523.3,601.8 1522.8,591Q1523.3,580.2 1517.8,567Z" fill="#999a9e"/>
<line x1="1329.7" y1="739.8" x2="1384.1" y2="739.8" stroke="#999a9e" stroke-width="15.6" stroke-linecap="round"/><path d="M1379.1,715.8L1426.7,739.8L1379.1,763.8Q1384.6,750.6 1384.1,739.8Q1384.6,729 1379.1,715.8Z" fill="#999a9e"/>
<line x2="2197.5" y2="455.7" x1="2287.6" y1="156.1" stroke="#000" stroke-width="2.9" stroke-dasharray="23.5 13.5 23.5 13 2.2 15"/>
<line x2="2197.5" y2="455.7" x1="2287.6" y1="259.2" stroke="#000" stroke-width="2.9" stroke-dasharray="23.5 13.5 23.5 13 2.2 15"/>
<line x2="2197.5" y2="455.7" x1="2287.6" y1="362.8" stroke="#000" stroke-width="2.9" stroke-dasharray="23.5 13.5 23.5 13 2.2 15"/>
<line x2="2197.5" y2="455.7" x1="2287.6" y1="466.1" stroke="#000" stroke-width="2.9" stroke-dasharray="23.5 13.5 23.5 13 2.2 15"/>
<line x2="2197.5" y2="455.7" x1="2287.6" y1="630.4" stroke="#000" stroke-width="2.9" stroke-dasharray="23.5 13.5 23.5 13 2.2 15"/>
<line x2="2197.5" y2="455.7" x1="2287.6" y1="734.8" stroke="#000" stroke-width="2.9" stroke-dasharray="23.5 13.5 23.5 13 2.2 15"/>
<line x2="2197.5" y2="455.7" x1="2287.6" y1="837.8" stroke="#000" stroke-width="2.9" stroke-dasharray="23.5 13.5 23.5 13 2.2 15"/>
<polygon points="2287.6,136.1 2346.2,136.1 2360.7,121.1 2302.1,121.1" fill="#e3e3e1"/>
<polygon points="2346.2,136.1 2360.7,121.1 2360.7,160.6 2346.2,175.6" fill="#b0b0b2"/>
<rect x="2287.6" y="136.1" width="58.6" height="39.5" fill="#cdcdcd"/>
<path d="M2287.6,136.1H2346.2V175.6H2287.6Z M2287.6,136.1L2302.1,121.1H2360.7V160.6L2346.2,175.6 M2346.2,136.1L2360.7,121.1" fill="none" stroke="#000" stroke-width="2.4" stroke-linejoin="miter"/>
<polygon points="2287.6,239.2 2346.2,239.2 2360.7,224.2 2302.1,224.2" fill="#e3e3e1"/>
<polygon points="2346.2,239.2 2360.7,224.2 2360.7,263.7 2346.2,278.7" fill="#b0b0b2"/>
<rect x="2287.6" y="239.2" width="58.6" height="39.5" fill="#cdcdcd"/>
<path d="M2287.6,239.2H2346.2V278.7H2287.6Z M2287.6,239.2L2302.1,224.2H2360.7V263.7L2346.2,278.7 M2346.2,239.2L2360.7,224.2" fill="none" stroke="#000" stroke-width="2.4" stroke-linejoin="miter"/>
<polygon points="2287.6,342.8 2346.2,342.8 2360.7,327.8 2302.1,327.8" fill="#e3e3e1"/>
<polygon points="2346.2,342.8 2360.7,327.8 2360.7,367.3 2346.2,382.3" fill="#b0b0b2"/>
<rect x="2287.6" y="342.8" width="58.6" height="39.5" fill="#cdcdcd"/>
<path d="M2287.6,342.8H2346.2V382.3H2287.6Z M2287.6,342.8L2302.1,327.8H2360.7V367.3L2346.2,382.3 M2346.2,342.8L2360.7,327.8" fill="none" stroke="#000" stroke-width="2.4" stroke-linejoin="miter"/>
<polygon points="2287.6,446.1 2346.2,446.1 2360.7,431.1 2302.1,431.1" fill="#e3e3e1"/>
<polygon points="2346.2,446.1 2360.7,431.1 2360.7,470.6 2346.2,485.6" fill="#b0b0b2"/>
<rect x="2287.6" y="446.1" width="58.6" height="39.5" fill="#cdcdcd"/>
<path d="M2287.6,446.1H2346.2V485.6H2287.6Z M2287.6,446.1L2302.1,431.1H2360.7V470.6L2346.2,485.6 M2346.2,446.1L2360.7,431.1" fill="none" stroke="#000" stroke-width="2.4" stroke-linejoin="miter"/>
<polygon points="2287.6,610.4 2346.2,610.4 2360.7,595.4 2302.1,595.4" fill="#e3e3e1"/>
<polygon points="2346.2,610.4 2360.7,595.4 2360.7,634.9 2346.2,649.9" fill="#b0b0b2"/>
<rect x="2287.6" y="610.4" width="58.6" height="39.5" fill="#cdcdcd"/>
<path d="M2287.6,610.4H2346.2V649.9H2287.6Z M2287.6,610.4L2302.1,595.4H2360.7V634.9L2346.2,649.9 M2346.2,610.4L2360.7,595.4" fill="none" stroke="#000" stroke-width="2.4" stroke-linejoin="miter"/>
<polygon points="2287.6,714.8 2346.2,714.8 2360.7,699.8 2302.1,699.8" fill="#e3e3e1"/>
<polygon points="2346.2,714.8 2360.7,699.8 2360.7,739.3 2346.2,754.3" fill="#b0b0b2"/>
<rect x="2287.6" y="714.8" width="58.6" height="39.5" fill="#cdcdcd"/>
<path d="M2287.6,714.8H2346.2V754.3H2287.6Z M2287.6,714.8L2302.1,699.8H2360.7V739.3L2346.2,754.3 M2346.2,714.8L2360.7,699.8" fill="none" stroke="#000" stroke-width="2.4" stroke-linejoin="miter"/>
<polygon points="2287.6,817.8 2346.2,817.8 2360.7,802.8 2302.1,802.8" fill="#e3e3e1"/>
<polygon points="2346.2,817.8 2360.7,802.8 2360.7,842.3 2346.2,857.3" fill="#b0b0b2"/>
<rect x="2287.6" y="817.8" width="58.6" height="39.5" fill="#cdcdcd"/>
<path d="M2287.6,817.8H2346.2V857.3H2287.6Z M2287.6,817.8L2302.1,802.8H2360.7V842.3L2346.2,857.3 M2346.2,817.8L2360.7,802.8" fill="none" stroke="#000" stroke-width="2.4" stroke-linejoin="miter"/>
<circle cx="2323.7" cy="525.7" r="3.1" fill="#1a1a1a"/>
<circle cx="2323.7" cy="543.9" r="3.1" fill="#1a1a1a"/>
<circle cx="2323.7" cy="562.2" r="3.1" fill="#1a1a1a"/>
<polygon points="2401.4,453.7 2634.2,453.7 2692.4,395.5 2459.6,395.5" fill="#e3e3e1"/>
<polygon points="2634.2,453.7 2692.4,395.5 2692.4,553.1 2634.2,611.3" fill="#b0b0b2"/>
<rect x="2401.4" y="453.7" width="232.8" height="157.6" fill="#cdcdcd"/>
<path d="M2401.4,611.3V453.7L2459.6,395.5M2401.4,453.7H2634.2L2692.4,395.5M2401.4,453.7H2634.2V611.3M2459.6,611.3V453.7L2517.8,395.5M2401.4,493.1H2634.2L2692.4,434.9M2416,439.1H2648.8V596.8M2517.8,611.3V453.7L2576,395.5M2401.4,532.5H2634.2L2692.4,474.3M2430.5,424.6H2663.3V582.2M2576,611.3V453.7L2634.2,395.5M2401.4,571.9H2634.2L2692.4,513.7M2445.1,410H2677.8V567.6M2634.2,611.3V453.7L2692.4,395.5M2401.4,611.3H2634.2L2692.4,553.1M2459.6,395.5H2692.4V553.1" fill="none" stroke="#000" stroke-width="2.2"/>
<circle cx="2532.9" cy="478.4" r="2.1" fill="#111"/>
<circle cx="2546.9" cy="478.4" r="2.1" fill="#111"/>
<circle cx="2560.9" cy="478.4" r="2.1" fill="#111"/>
<circle cx="2532.9" cy="513.8" r="2.1" fill="#111"/>
<circle cx="2546.9" cy="513.8" r="2.1" fill="#111"/>
<circle cx="2560.9" cy="513.8" r="2.1" fill="#111"/>
<circle cx="2532.9" cy="553.2" r="2.1" fill="#111"/>
<circle cx="2546.9" cy="553.2" r="2.1" fill="#111"/>
<circle cx="2560.9" cy="553.2" r="2.1" fill="#111"/>
<circle cx="2532.9" cy="592.6" r="2.1" fill="#111"/>
<circle cx="2546.9" cy="592.6" r="2.1" fill="#111"/>
<circle cx="2560.9" cy="592.6" r="2.1" fill="#111"/>
<circle cx="2430.5" cy="538.9" r="2.1" fill="#111"/>
<circle cx="2430.5" cy="552.4" r="2.1" fill="#111"/>
<circle cx="2430.5" cy="565.9" r="2.1" fill="#111"/>
<circle cx="2488.7" cy="538.9" r="2.1" fill="#111"/>
<circle cx="2488.7" cy="552.4" r="2.1" fill="#111"/>
<circle cx="2488.7" cy="565.9" r="2.1" fill="#111"/>
<circle cx="2605.1" cy="538.9" r="2.1" fill="#111"/>
<circle cx="2605.1" cy="552.4" r="2.1" fill="#111"/>
<circle cx="2605.1" cy="565.9" r="2.1" fill="#111"/>
<line x1="2346" y1="155.7" x2="2426" y2="472" stroke="#9b9b9d" stroke-width="2.9" stroke-dasharray="23.5 13.5 23.5 13 2.2 15"/>
<line x1="2346" y1="258" x2="2485" y2="469" stroke="#9b9b9d" stroke-width="2.9" stroke-dasharray="23.5 13.5 23.5 13 2.2 15"/>
<line x1="2346" y1="360" x2="2548" y2="474" stroke="#9b9b9d" stroke-width="2.9" stroke-dasharray="23.5 13.5 23.5 13 2.2 15"/>
<line x1="2346" y1="466" x2="2430" y2="524" stroke="#9b9b9d" stroke-width="2.9" stroke-dasharray="23.5 13.5 23.5 13 2.2 15"/>
<line x1="2346" y1="629.5" x2="2481" y2="565.6" stroke="#9b9b9d" stroke-width="2.9" stroke-dasharray="23.5 13.5 23.5 13 2.2 15"/>
<line x1="2346" y1="734" x2="2533.4" y2="555.7" stroke="#9b9b9d" stroke-width="2.9" stroke-dasharray="23.5 13.5 23.5 13 2.2 15"/>
<line x1="2346" y1="837.5" x2="2597.9" y2="603.3" stroke="#9b9b9d" stroke-width="2.9" stroke-dasharray="23.5 13.5 23.5 13 2.2 15"/>
<line x1="2871.9" y1="423.9" x2="3141.6" y2="359.5" stroke="#9a9a9a" stroke-width="1.1"/>
<line x1="3141.6" y1="359.5" x2="3222.3" y2="428.4" stroke="#9a9a9a" stroke-width="1.1"/>
<line x1="2871.9" y1="423.9" x2="2951.2" y2="491.9" stroke="#9a9a9a" stroke-width="1.1"/>
<line x1="2951.2" y1="491.9" x2="3222.3" y2="428.4" stroke="#9a9a9a" stroke-width="1.1"/>
<line x1="2871.9" y1="574.9" x2="3141.6" y2="510.5" stroke="#9a9a9a" stroke-width="1.1"/>
<line x1="3141.6" y1="510.5" x2="3222.3" y2="579.4" stroke="#9a9a9a" stroke-width="1.1"/>
<line x1="2871.9" y1="574.9" x2="2951.2" y2="642.9" stroke="#9a9a9a" stroke-width="1.1"/>
<line x1="2951.2" y1="642.9" x2="3222.3" y2="579.4" stroke="#9a9a9a" stroke-width="1.1"/>
<line x1="2871.9" y1="423.9" x2="2871.9" y2="574.9" stroke="#9a9a9a" stroke-width="1.1"/>
<line x1="3141.6" y1="359.5" x2="3141.6" y2="510.5" stroke="#9a9a9a" stroke-width="1.1"/>
<line x1="3222.3" y1="428.4" x2="3222.3" y2="579.4" stroke="#9a9a9a" stroke-width="1.1"/>
<line x1="2951.2" y1="491.9" x2="2951.2" y2="642.9" stroke="#9a9a9a" stroke-width="1.1"/>
<defs><linearGradient id="ringg" x1="0" y1="0" x2="1" y2="0.2"><stop offset="0" stop-color="#45ab48"/><stop offset="0.35" stop-color="#58b84f"/><stop offset="0.7" stop-color="#369a46"/><stop offset="1" stop-color="#287e4c"/></linearGradient></defs>
<path d="M3086.2,495L3086.9,499.5L3087.2,504.1L3087.4,508.7L3087.4,513.1L3087.1,517.5L3086.6,521.7L3085.8,525.8L3084.9,529.7L3083.7,533.3L3082.4,536.7L3080.8,539.8L3079.1,542.6L3077.2,545L3075.2,547.1L3073,548.9L3070.7,550.3L3068.4,551.3L3065.9,551.8L3063.4,552L3060.8,551.8L3058.2,551.2L3055.6,550.2L3053,548.9L3050.5,547.1L3048,545L3045.5,542.5L3043.2,539.7L3041,536.6L3038.9,533.2L3036.9,529.6L3035.1,525.7L3033.5,521.7L3032.1,517.4L3030.8,513.1L3029.8,508.6L3029,504L3028.3,499.5L3028,494.9L3027.8,490.3L3027.8,485.9L3028.1,481.5L3028.6,477.3L3029.4,473.2L3030.3,469.3L3031.5,465.7L3032.8,462.3L3034.4,459.2L3036.1,456.4L3038,454L3040,451.9L3042.2,450.1L3044.5,448.7L3046.8,447.7L3049.3,447.2L3051.8,447L3054.4,447.2L3057,447.8L3059.6,448.8L3062.2,450.1L3064.7,451.9L3067.2,454L3069.7,456.5L3072,459.3L3074.2,462.4L3076.3,465.8L3078.3,469.4L3080.1,473.3L3081.7,477.3L3083.1,481.6L3084.4,485.9L3085.4,490.4ZM3073.5,495L3074,498.2L3074.4,501.3L3074.6,504.4L3074.8,507.5L3074.8,510.5L3074.7,513.3L3074.6,516.1L3074.3,518.7L3074,521.1L3073.5,523.4L3073,525.4L3072.3,527.2L3071.6,528.8L3070.8,530.2L3069.9,531.3L3069,532.2L3068,532.7L3066.9,533.1L3065.8,533.1L3064.7,532.8L3063.5,532.3L3062.3,531.5L3061.2,530.5L3060,529.2L3058.8,527.7L3057.6,525.9L3056.5,523.9L3055.4,521.7L3054.4,519.3L3053.4,516.7L3052.4,514L3051.6,511.2L3050.8,508.2L3050,505.2L3049.4,502.1L3048.9,499L3048.4,495.8L3048,492.7L3047.8,489.6L3047.6,486.5L3047.6,483.5L3047.7,480.7L3047.8,477.9L3048.1,475.3L3048.4,472.9L3048.9,470.6L3049.4,468.6L3050.1,466.8L3050.8,465.2L3051.6,463.8L3052.5,462.7L3053.4,461.8L3054.4,461.3L3055.5,460.9L3056.6,460.9L3057.7,461.2L3058.9,461.7L3060.1,462.5L3061.2,463.5L3062.4,464.8L3063.6,466.3L3064.8,468.1L3065.9,470.1L3067,472.3L3068,474.7L3069,477.3L3070,480L3070.8,482.8L3071.6,485.8L3072.4,488.8L3073,491.9Z" fill="url(#ringg)" fill-rule="evenodd" stroke="#2f8d4a" stroke-width="1.2"/>
<path d="M3078.8,496.1L3079.4,500L3079.7,503.9L3079.9,507.8L3080,511.5L3079.8,515.2L3079.5,518.8L3079,522.2L3078.4,525.5L3077.6,528.5L3076.6,531.4L3075.5,534L3074.3,536.3L3073,538.4L3071.5,540.1L3069.9,541.6L3068.2,542.7L3066.5,543.5L3064.6,543.9L3062.8,544.1L3060.8,543.9L3058.9,543.3L3057,542.4L3055,541.2L3053.1,539.7L3051.2,537.8L3049.3,535.7L3047.6,533.3L3045.9,530.6L3044.2,527.7L3042.7,524.6L3041.3,521.3L3040.1,517.9L3038.9,514.3L3037.9,510.5L3037.1,506.7L3036.4,502.9L3035.8,499L3035.5,495.1L3035.3,491.2L3035.2,487.5L3035.4,483.8L3035.7,480.2L3036.2,476.8L3036.8,473.5L3037.6,470.5L3038.6,467.6L3039.7,465L3040.9,462.7L3042.2,460.6L3043.7,458.9L3045.3,457.4L3047,456.3L3048.7,455.5L3050.6,455.1L3052.4,454.9L3054.4,455.1L3056.3,455.7L3058.2,456.6L3060.2,457.8L3062.1,459.3L3064,461.2L3065.9,463.3L3067.6,465.7L3069.3,468.4L3071,471.3L3072.5,474.4L3073.9,477.7L3075.1,481.1L3076.3,484.7L3077.3,488.5L3078.1,492.3Z" fill="none" stroke="#7ccc66" stroke-width="2" opacity="0.45" stroke-dasharray="60 200"/>
<path d="M3022,499.5 C3035,497 3050,493 3068,488.5" fill="none" stroke="#1f7c68" stroke-width="7.5" stroke-linecap="round"/><path d="M3022,499.5 C3035,497 3050,493 3068,488.5" fill="none" stroke="#3aa98a" stroke-width="4.65" stroke-linecap="round" transform="translate(-0.3,-0.7)"/><path d="M3022,499.5 C3035,497 3050,493 3068,488.5" fill="none" stroke="#6fcaa3" stroke-width="1.5" stroke-linecap="round" transform="translate(-0.6,-1.4)" opacity="0.7"/>
<path d="M3027,515.5 C3040,511 3052,506 3068,501.5" fill="none" stroke="#1f7c68" stroke-width="7.5" stroke-linecap="round"/><path d="M3027,515.5 C3040,511 3052,506 3068,501.5" fill="none" stroke="#3aa98a" stroke-width="4.65" stroke-linecap="round" transform="translate(-0.3,-0.7)"/><path d="M3027,515.5 C3040,511 3052,506 3068,501.5" fill="none" stroke="#6fcaa3" stroke-width="1.5" stroke-linecap="round" transform="translate(-0.6,-1.4)" opacity="0.7"/>
<path d="M3066,502 C3090,498 3112,494 3136,486 3152,480 3170,476 3186,472.5" fill="none" stroke="#1f7c68" stroke-width="7.0" stroke-linecap="round"/><path d="M3066,502 C3090,498 3112,494 3136,486 3152,480 3170,476 3186,472.5" fill="none" stroke="#3aa98a" stroke-width="4.34" stroke-linecap="round" transform="translate(-0.3,-0.7)"/><path d="M3066,502 C3090,498 3112,494 3136,486 3152,480 3170,476 3186,472.5" fill="none" stroke="#6fcaa3" stroke-width="1.4000000000000001" stroke-linecap="round" transform="translate(-0.6,-1.4)" opacity="0.7"/>
<path d="M3060,508 C3090,500 3120,493 3145,489 3160,487 3172,490 3180,492" fill="none" stroke="#1f7c68" stroke-width="6.6" stroke-linecap="round"/><path d="M3060,508 C3090,500 3120,493 3145,489 3160,487 3172,490 3180,492" fill="none" stroke="#3aa98a" stroke-width="4.092" stroke-linecap="round" transform="translate(-0.3,-0.7)"/><path d="M3060,508 C3090,500 3120,493 3145,489 3160,487 3172,490 3180,492" fill="none" stroke="#6fcaa3" stroke-width="1.32" stroke-linecap="round" transform="translate(-0.6,-1.4)" opacity="0.7"/>
<path d="M3066,489 C3095,486 3108,490 3125,486 3140,480 3150,466 3173,449.6" fill="none" stroke="#1f7c68" stroke-width="7.0" stroke-linecap="round"/><path d="M3066,489 C3095,486 3108,490 3125,486 3140,480 3150,466 3173,449.6" fill="none" stroke="#3aa98a" stroke-width="4.34" stroke-linecap="round" transform="translate(-0.3,-0.7)"/><path d="M3066,489 C3095,486 3108,490 3125,486 3140,480 3150,466 3173,449.6" fill="none" stroke="#6fcaa3" stroke-width="1.4000000000000001" stroke-linecap="round" transform="translate(-0.6,-1.4)" opacity="0.7"/>
<path d="M3070,486 C3095,478 3120,468 3138,460 3150,456 3162,458 3166,468" fill="none" stroke="#1f7c68" stroke-width="6.6" stroke-linecap="round"/><path d="M3070,486 C3095,478 3120,468 3138,460 3150,456 3162,458 3166,468" fill="none" stroke="#3aa98a" stroke-width="4.092" stroke-linecap="round" transform="translate(-0.3,-0.7)"/><path d="M3070,486 C3095,478 3120,468 3138,460 3150,456 3162,458 3166,468" fill="none" stroke="#6fcaa3" stroke-width="1.32" stroke-linecap="round" transform="translate(-0.6,-1.4)" opacity="0.7"/>
<path d="M3074,495 C3100,484 3118,474 3135,476 3148,480 3158,470 3168,462" fill="none" stroke="#1f7c68" stroke-width="6.2" stroke-linecap="round"/><path d="M3074,495 C3100,484 3118,474 3135,476 3148,480 3158,470 3168,462" fill="none" stroke="#3aa98a" stroke-width="3.844" stroke-linecap="round" transform="translate(-0.3,-0.7)"/><path d="M3074,495 C3100,484 3118,474 3135,476 3148,480 3158,470 3168,462" fill="none" stroke="#6fcaa3" stroke-width="1.2400000000000002" stroke-linecap="round" transform="translate(-0.6,-1.4)" opacity="0.7"/>
<defs><clipPath id="rimclip"><polygon points="3068,440 3100,440 3100,560 3060,560 3062,520 3066,480"/></clipPath></defs>
<path d="M3086.2,495L3086.9,499.5L3087.2,504.1L3087.4,508.7L3087.4,513.1L3087.1,517.5L3086.6,521.7L3085.8,525.8L3084.9,529.7L3083.7,533.3L3082.4,536.7L3080.8,539.8L3079.1,542.6L3077.2,545L3075.2,547.1L3073,548.9L3070.7,550.3L3068.4,551.3L3065.9,551.8L3063.4,552L3060.8,551.8L3058.2,551.2L3055.6,550.2L3053,548.9L3050.5,547.1L3048,545L3045.5,542.5L3043.2,539.7L3041,536.6L3038.9,533.2L3036.9,529.6L3035.1,525.7L3033.5,521.7L3032.1,517.4L3030.8,513.1L3029.8,508.6L3029,504L3028.3,499.5L3028,494.9L3027.8,490.3L3027.8,485.9L3028.1,481.5L3028.6,477.3L3029.4,473.2L3030.3,469.3L3031.5,465.7L3032.8,462.3L3034.4,459.2L3036.1,456.4L3038,454L3040,451.9L3042.2,450.1L3044.5,448.7L3046.8,447.7L3049.3,447.2L3051.8,447L3054.4,447.2L3057,447.8L3059.6,448.8L3062.2,450.1L3064.7,451.9L3067.2,454L3069.7,456.5L3072,459.3L3074.2,462.4L3076.3,465.8L3078.3,469.4L3080.1,473.3L3081.7,477.3L3083.1,481.6L3084.4,485.9L3085.4,490.4ZM3073.5,495L3074,498.2L3074.4,501.3L3074.6,504.4L3074.8,507.5L3074.8,510.5L3074.7,513.3L3074.6,516.1L3074.3,518.7L3074,521.1L3073.5,523.4L3073,525.4L3072.3,527.2L3071.6,528.8L3070.8,530.2L3069.9,531.3L3069,532.2L3068,532.7L3066.9,533.1L3065.8,533.1L3064.7,532.8L3063.5,532.3L3062.3,531.5L3061.2,530.5L3060,529.2L3058.8,527.7L3057.6,525.9L3056.5,523.9L3055.4,521.7L3054.4,519.3L3053.4,516.7L3052.4,514L3051.6,511.2L3050.8,508.2L3050,505.2L3049.4,502.1L3048.9,499L3048.4,495.8L3048,492.7L3047.8,489.6L3047.6,486.5L3047.6,483.5L3047.7,480.7L3047.8,477.9L3048.1,475.3L3048.4,472.9L3048.9,470.6L3049.4,468.6L3050.1,466.8L3050.8,465.2L3051.6,463.8L3052.5,462.7L3053.4,461.8L3054.4,461.3L3055.5,460.9L3056.6,460.9L3057.7,461.2L3058.9,461.7L3060.1,462.5L3061.2,463.5L3062.4,464.8L3063.6,466.3L3064.8,468.1L3065.9,470.1L3067,472.3L3068,474.7L3069,477.3L3070,480L3070.8,482.8L3071.6,485.8L3072.4,488.8L3073,491.9Z" fill="url(#ringg)" fill-rule="evenodd" stroke="#2f8d4a" stroke-width="1.2" clip-path="url(#rimclip)"/>
<ellipse cx="2955.5" cy="511.2" rx="8" ry="2.6" transform="rotate(-10 2955.5 511.2)" fill="#3aa98a" stroke="#1f7c68" stroke-width="0.8"/>
<ellipse cx="2960.5" cy="514.2" rx="8.5" ry="3" transform="rotate(-12 2960.5 514.2)" fill="#3aa98a" stroke="#1f7c68" stroke-width="0.8"/>
<ellipse cx="2953.5" cy="528" rx="8.5" ry="3.2" transform="rotate(-8 2953.5 528)" fill="#3aa98a" stroke="#1f7c68" stroke-width="0.8"/>
<ellipse cx="2962.5" cy="533.5" rx="9" ry="2.4" transform="rotate(-10 2962.5 533.5)" fill="#3aa98a" stroke="#1f7c68" stroke-width="0.8"/>
<ellipse cx="2977" cy="493" rx="4" ry="1.6" transform="rotate(-10 2977 493)" fill="#3aa98a" stroke="#1f7c68" stroke-width="0.8"/>
<ellipse cx="2996" cy="491.5" rx="2.4" ry="1.5" transform="rotate(0 2996 491.5)" fill="#3aa98a" stroke="#1f7c68" stroke-width="0.8"/>
<ellipse cx="3010.5" cy="507" rx="2.2" ry="1.8" transform="rotate(0 3010.5 507)" fill="#3aa98a" stroke="#1f7c68" stroke-width="0.8"/>
<ellipse cx="2992.5" cy="519" rx="3.6" ry="2.2" transform="rotate(-30 2992.5 519)" fill="#3aa98a" stroke="#1f7c68" stroke-width="0.8"/>
<ellipse cx="3009" cy="533" rx="2" ry="1.4" transform="rotate(0 3009 533)" fill="#3aa98a" stroke="#1f7c68" stroke-width="0.8"/>
<ellipse cx="2982.5" cy="542" rx="2.4" ry="1.4" transform="rotate(0 2982.5 542)" fill="#3aa98a" stroke="#1f7c68" stroke-width="0.8"/>
<ellipse cx="2941.6" cy="509.2" rx="2.4" ry="2.8" fill="#8cc04a" stroke="#6a9a3a" stroke-width="0.6"/>
<ellipse cx="2945.2" cy="517.2" rx="2.4" ry="3.2" fill="#8cc04a" stroke="#6a9a3a" stroke-width="0.6"/>
<ellipse cx="2923.8" cy="540" rx="2.2" ry="3.6" fill="#8cc04a" stroke="#6a9a3a" stroke-width="0.6"/>
<ellipse cx="2926.8" cy="548" rx="2" ry="2" fill="#8cc04a" stroke="#6a9a3a" stroke-width="0.6"/>
<ellipse cx="2925.8" cy="498.5" rx="5" ry="1.6" fill="#8cc04a" stroke="#6a9a3a" stroke-width="0.6"/>
<ellipse cx="2919.8" cy="522" rx="1.2" ry="1" fill="#8cc04a" stroke="#6a9a3a" stroke-width="0.6"/>
<ellipse cx="2920.8" cy="528" rx="1.2" ry="1" fill="#8cc04a" stroke="#6a9a3a" stroke-width="0.6"/>
<ellipse cx="2947.6" cy="556.8" rx="4" ry="1.6" fill="#8cc04a" stroke="#6a9a3a" stroke-width="0.6"/>
</svg>
</body></html>
